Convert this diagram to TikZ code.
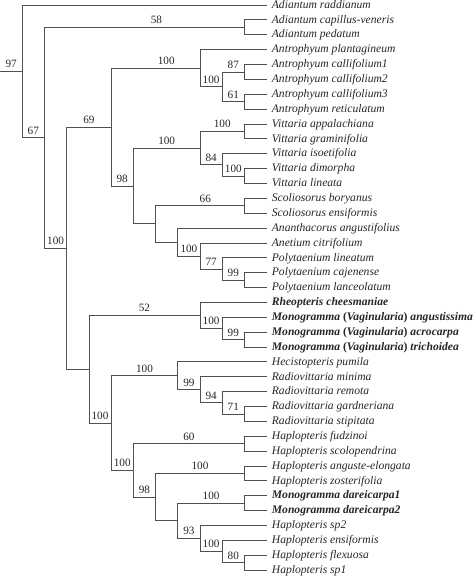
\documentclass[tikz,border=0pt]{standalone}
\usepackage{xcolor}
\usepackage{tikz}
\usepackage{fontspec}
\setmainfont{Liberation Serif}
\definecolor{treegray}{HTML}{505050}
\definecolor{taxink}{HTML}{262626}

\tikzset{
  branch/.style={treegray,line width=0.8pt},
  leaf/.style={anchor=west,inner xsep=5pt,inner ysep=0pt,text height=8.5pt,text depth=2pt,
    text=taxink,font=\fontsize{11.6}{13}\selectfont\itshape},
  leafb/.style={leaf,font=\fontsize{11.6}{13}\selectfont\bfseries\itshape},
  bs/.style={above,inner sep=1pt,yshift=2pt,text=taxink,font=\fontsize{11.2}{12}\selectfont}
}

\begin{document}
\begin{tikzpicture}[x=1pt,y=-1pt]
  \useasboundingbox (0,0) rectangle (474,577);

  % taxa
  \node[leaf] (t0) at (266.7,5.00) {Adiantum raddianum};
  \node[leaf] (t1) at (266.7,19.87) {Adiantum capillus-veneris};
  \node[leaf] (t2) at (266.7,34.74) {Adiantum pedatum};
  \node[leaf] (t3) at (266.7,49.61) {Antrophyum plantagineum};
  \node[leaf] (t4) at (266.7,64.48) {Antrophyum callifolium1};
  \node[leaf] (t5) at (266.7,79.35) {Antrophyum callifolium2};
  \node[leaf] (t6) at (266.7,94.22) {Antrophyum callifolium3};
  \node[leaf] (t7) at (266.7,109.09) {Antrophyum reticulatum};
  \node[leaf] (t8) at (266.7,123.96) {Vittaria appalachiana};
  \node[leaf] (t9) at (266.7,138.83) {Vittaria graminifolia};
  \node[leaf] (t10) at (266.7,153.70) {Vittaria isoetifolia};
  \node[leaf] (t11) at (266.7,168.57) {Vittaria dimorpha};
  \node[leaf] (t12) at (266.7,183.44) {Vittaria lineata};
  \node[leaf] (t13) at (266.7,198.31) {Scoliosorus boryanus};
  \node[leaf] (t14) at (266.7,213.18) {Scoliosorus ensiformis};
  \node[leaf] (t15) at (266.7,228.05) {Ananthacorus angustifolius};
  \node[leaf] (t16) at (266.7,242.92) {Anetium citrifolium};
  \node[leaf] (t17) at (266.7,257.79) {Polytaenium lineatum};
  \node[leaf] (t18) at (266.7,272.66) {Polytaenium cajenense};
  \node[leaf] (t19) at (266.7,287.53) {Polytaenium lanceolatum};
  \node[leafb] (t20) at (266.7,302.40) {Rheopteris cheesmaniae};
  \node[leafb] (t21) at (266.7,317.27) {Monogramma \textup{(}Vaginularia\textup{)} angustissima};
  \node[leafb] (t22) at (266.7,332.14) {Monogramma \textup{(}Vaginularia\textup{)} acrocarpa};
  \node[leafb] (t23) at (266.7,347.01) {Monogramma \textup{(}Vaginularia\textup{)} trichoidea};
  \node[leaf] (t24) at (266.7,361.88) {Hecistopteris pumila};
  \node[leaf] (t25) at (266.7,376.75) {Radiovittaria minima};
  \node[leaf] (t26) at (266.7,391.62) {Radiovittaria remota};
  \node[leaf] (t27) at (266.7,406.49) {Radiovittaria gardneriana};
  \node[leaf] (t28) at (266.7,421.36) {Radiovittaria stipitata};
  \node[leaf] (t29) at (266.7,436.23) {Haplopteris fudzinoi};
  \node[leaf] (t30) at (266.7,451.10) {Haplopteris scolopendrina};
  \node[leaf] (t31) at (266.7,465.97) {Haplopteris anguste-elongata};
  \node[leaf] (t32) at (266.7,480.84) {Haplopteris zosterifolia};
  \node[leafb] (t33) at (266.7,495.71) {Monogramma dareicarpa1};
  \node[leafb] (t34) at (266.7,510.58) {Monogramma dareicarpa2};
  \node[leaf] (t35) at (266.7,525.45) {Haplopteris sp2};
  \node[leaf] (t36) at (266.7,540.32) {Haplopteris ensiformis};
  \node[leaf] (t37) at (266.7,555.19) {Haplopteris flexuosa};
  \node[leaf] (t38) at (266.7,570.06) {Haplopteris sp1};

  % internal nodes
  \coordinate (stem) at (0,71.38);
  \coordinate (root) at (22.2,71.38);
  \coordinate (n67) at (44.4,137.75);
  \coordinate (n58) at (244.4,27.31);
  \coordinate (nbig) at (66.7,248.19);
  \coordinate (n69) at (111.1,127.11);
  \coordinate (nant) at (200,68.20);
  \coordinate (nantb) at (222.2,86.79);
  \coordinate (n87) at (244.4,71.92);
  \coordinate (n61) at (244.4,101.66);
  \coordinate (n98) at (133.3,186.01);
  \coordinate (nvit) at (200,148.13);
  \coordinate (nvitb) at (244.4,131.40);
  \coordinate (n84) at (222.2,164.86);
  \coordinate (nvitc) at (244.4,176.01);
  \coordinate (nsco) at (155.6,223.88);
  \coordinate (n66) at (244.4,205.75);
  \coordinate (nana) at (177.8,242.00);
  \coordinate (npol) at (200,255.94);
  \coordinate (n77) at (222.2,268.95);
  \coordinate (n99p) at (244.4,280.10);
  \coordinate (nlow) at (88.9,369.27);
  \coordinate (n52) at (200,315.42);
  \coordinate (nmon) at (222.2,328.43);
  \coordinate (n99m) at (244.4,339.58);
  \coordinate (nrh) at (111.1,423.11);
  \coordinate (nrad) at (177.8,375.83);
  \coordinate (n99r) at (200,389.77);
  \coordinate (n94) at (222.2,402.78);
  \coordinate (n71) at (244.4,413.93);
  \coordinate (nhap) at (133.3,470.39);
  \coordinate (n60) at (244.4,443.67);
  \coordinate (n98h) at (155.6,497.11);
  \coordinate (nhapa) at (244.4,473.41);
  \coordinate (nhx) at (177.8,520.81);
  \coordinate (ndar) at (244.4,503.15);
  \coordinate (n93) at (200,538.47);
  \coordinate (nhapc) at (222.2,551.48);
  \coordinate (n80) at (244.4,562.63);

  % branches
  \draw[branch] (stem) -- node[bs]{97} (root);
  \draw[branch] (root) |- (t0.west);
  \draw[branch] (root) |- node[bs,pos=0.75]{67} (n67);
  \draw[branch] (n67) |- node[bs,pos=0.78]{58} (n58);
  \draw[branch] (n58) |- (t1.west);
  \draw[branch] (n58) |- (t2.west);
  \draw[branch] (n67) |- node[bs,pos=0.75]{100} (nbig);

  \draw[branch] (nbig) |- node[bs,pos=0.75]{69} (n69);
  \draw[branch] (n69) |- node[bs,pos=0.81]{100} (nant);
  \draw[branch] (nant) |- (t3.west);
  \draw[branch] (nant) |- node[bs,pos=0.75]{100} (nantb);
  \draw[branch] (nantb) |- node[bs,pos=0.75]{87} (n87);
  \draw[branch] (n87) |- (t4.west);
  \draw[branch] (n87) |- (t5.west);
  \draw[branch] (nantb) |- node[bs,pos=0.75]{61} (n61);
  \draw[branch] (n61) |- (t6.west);
  \draw[branch] (n61) |- (t7.west);

  \draw[branch] (n69) |- node[bs,pos=0.75]{98} (n98);
  \draw[branch] (n98) |- node[bs,pos=0.75]{100} (nvit);
  \draw[branch] (nvit) |- node[bs,pos=0.75]{100} (nvitb);
  \draw[branch] (nvitb) |- (t8.west);
  \draw[branch] (nvitb) |- (t9.west);
  \draw[branch] (nvit) |- node[bs,pos=0.75]{84} (n84);
  \draw[branch] (n84) |- (t10.west);
  \draw[branch] (n84) |- node[bs,pos=0.75]{100} (nvitc);
  \draw[branch] (nvitc) |- (t11.west);
  \draw[branch] (nvitc) |- (t12.west);

  \draw[branch] (n98) |- (nsco);
  \draw[branch] (nsco) |- node[bs,pos=0.78]{66} (n66);
  \draw[branch] (n66) |- (t13.west);
  \draw[branch] (n66) |- (t14.west);
  \draw[branch] (nsco) |- (nana);
  \draw[branch] (nana) |- (t15.west);
  \draw[branch] (nana) |- node[bs,pos=0.75]{100} (npol);
  \draw[branch] (npol) |- (t16.west);
  \draw[branch] (npol) |- node[bs,pos=0.75]{77} (n77);
  \draw[branch] (n77) |- (t17.west);
  \draw[branch] (n77) |- node[bs,pos=0.75]{99} (n99p);
  \draw[branch] (n99p) |- (t18.west);
  \draw[branch] (n99p) |- (t19.west);

  \draw[branch] (nbig) |- (nlow);
  \draw[branch] (nlow) |- node[bs,pos=0.75]{52} (n52);
  \draw[branch] (n52) |- (t20.west);
  \draw[branch] (n52) |- node[bs,pos=0.75]{100} (nmon);
  \draw[branch] (nmon) |- (t21.west);
  \draw[branch] (nmon) |- node[bs,pos=0.75]{99} (n99m);
  \draw[branch] (n99m) |- (t22.west);
  \draw[branch] (n99m) |- (t23.west);

  \draw[branch] (nlow) |- node[bs,pos=0.75]{100} (nrh);
  \draw[branch] (nrh) |- node[bs,pos=0.75]{100} (nrad);
  \draw[branch] (nrad) |- (t24.west);
  \draw[branch] (nrad) |- node[bs,pos=0.75]{99} (n99r);
  \draw[branch] (n99r) |- (t25.west);
  \draw[branch] (n99r) |- node[bs,pos=0.75]{94} (n94);
  \draw[branch] (n94) |- (t26.west);
  \draw[branch] (n94) |- node[bs,pos=0.75]{71} (n71);
  \draw[branch] (n71) |- (t27.west);
  \draw[branch] (n71) |- (t28.west);

  \draw[branch] (nrh) |- node[bs,pos=0.75]{100} (nhap);
  \draw[branch] (nhap) |- node[bs,pos=0.75]{60} (n60);
  \draw[branch] (n60) |- (t29.west);
  \draw[branch] (n60) |- (t30.west);
  \draw[branch] (nhap) |- node[bs,pos=0.75]{98} (n98h);
  \draw[branch] (n98h) |- node[bs,pos=0.75]{100} (nhapa);
  \draw[branch] (nhapa) |- (t31.west);
  \draw[branch] (nhapa) |- (t32.west);
  \draw[branch] (n98h) |- (nhx);
  \draw[branch] (nhx) |- node[bs,pos=0.75]{100} (ndar);
  \draw[branch] (ndar) |- (t33.west);
  \draw[branch] (ndar) |- (t34.west);
  \draw[branch] (nhx) |- node[bs,pos=0.75]{93} (n93);
  \draw[branch] (n93) |- (t35.west);
  \draw[branch] (n93) |- node[bs,pos=0.75]{100} (nhapc);
  \draw[branch] (nhapc) |- (t36.west);
  \draw[branch] (nhapc) |- node[bs,pos=0.75]{80} (n80);
  \draw[branch] (n80) |- (t37.west);
  \draw[branch] (n80) |- (t38.west);
\end{tikzpicture}
\end{document}
